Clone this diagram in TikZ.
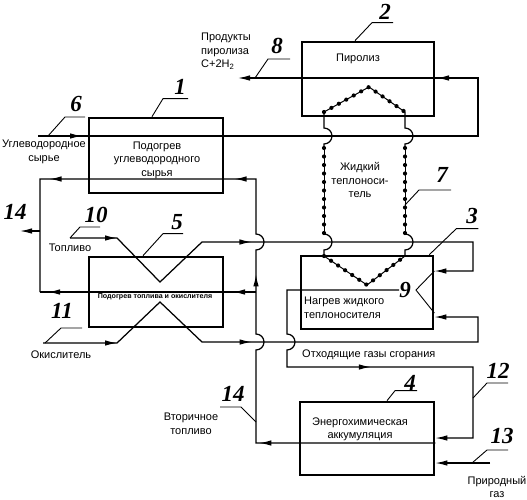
\documentclass[tikz,border=0pt]{standalone}
\usepackage{fontspec}
\setmainfont{Liberation Sans}
\newfontfamily\numserif{Liberation Serif}
\usetikzlibrary{arrows.meta, decorations.markings, calc}

\tikzset{
  unit/.style={draw, line width=2.7pt, inner sep=0pt},
  flow/.style={line width=1.25pt},
  tipat/.style={postaction={decorate, decoration={markings, mark=at position #1 with {\arrow{>}}}}},
  carrier/.style={line width=1pt, postaction={draw, line width=4.2pt, line cap=round, dash pattern=on 0pt off 8.5pt}},
  lead/.style={line width=0.9pt},
  num/.style={font=\numserif\fontsize{23}{23}\selectfont\bfseries\itshape, inner sep=0pt},
  txt/.style={font=\fontsize{11}{13.5}\selectfont, align=center, inner sep=0pt},
}

\begin{document}
\begin{tikzpicture}[x=1pt, y=-1pt, >={Latex[length=12pt,width=5.5pt]}]
    \useasboundingbox (0,0) rectangle (527,499);

    % units
    \node[unit, minimum width=134pt, minimum height=75pt] (heatraw) at (156,155.5) {};
    \node[unit, minimum width=132pt, minimum height=74pt] (pyrolysis) at (368,79) {};
    \node[unit, minimum width=134pt, minimum height=70pt] (heatfuel) at (156,292) {};
    \node[unit, minimum width=132pt, minimum height=73pt] (heatcarrier) at (367,292.5) {};
    \node[unit, minimum width=134pt, minimum height=73pt] (storage) at (367,438.5) {};

    % texts in the units
    \node[txt] (heatrawtext) at (157,160) {Подогрев\\углеводородного\\сырья};
    \node[txt] (pyrotext) at (358,59) {Пиролиз};
    \node[txt, font=\fontsize{7.1}{8}\selectfont\bfseries] (heatfueltext) at (155,297) {Подогрев топлива и окислителя};
    \node[txt, align=left, anchor=west] (heatcarriertext) at (304,308) {Нагрев жидкого\\теплоносителя};
    \node[txt] (storagetext) at (360,429.5) {Энергохимическая\\аккумуляция};

    % texts on the streams
    \node[txt] (rawtext) at (44,152) {Углеводородное\\сырье};
    \node[txt, align=left, anchor=north west] (prodtext) at (201,33) {Продукты\\пиролиза\\C+2H\textsubscript{2}};
    \node[txt] (carriertext) at (360,180) {Жидкий\\теплоноси-\\тель};
    \node[txt] (fueltext) at (70,248) {Топливо};
    \node[txt] (oxtext) at (61,355) {Окислитель};
    \node[txt, anchor=west] (fluetext) at (302,355) {Отходящие газы сгорания};
    \node[txt] (secfueltext) at (191,424) {Вторичное\\топливо};
    \node[txt] (gastext) at (497,487) {Природный\\газ};

    % free ends
    \coordinate (rawin) at (38,136);
    \coordinate (prodout) at (238,78);
    \coordinate (fuelin) at (70,238);
    \coordinate (oxin) at (43,343);
    \coordinate (gasin) at (490,463);
    \coordinate (secout) at (20,231);
    \coordinate (riser) at (256,179);
    \coordinate (flueturn) at (473,367);
    \node[num] (n9) at (405,290) {9};

    % raw material, pyrolysis products
    \draw[flow, ->, tipat=44pt, tipat=539pt] (rawin) -- (478,136) -- (478,78) -- (prodout);

    % fuel and oxidiser
    \draw[flow, ->, tipat=47pt, tipat=216pt] (fuelin) -- (117,238) -- (160,282) -- (202,242) -- (473,242) -- (473,271) -- (heatcarrier.east |- 0,271);
    \draw[flow, ->, tipat=74pt, tipat=241pt] (oxin) -- (117,343) -- (160,302) -- (202,342) -- (478,342) -- (478,317) -- (heatcarrier.east |- 0,317);

    % flue gas
    \draw[flow, ->, tipat=282pt] (n9.west) -- (287,290) -- (287,334) arc[start angle=90, end angle=-90, radius=8pt] -- (287,367) -- (flueturn) -- (473,438) -- (storage.east |- 0,438);

    % natural gas
    \draw[flow, ->] (gasin) -- (storage.east |- gasin);

    % secondary fuel
    \draw[flow, tipat=176pt, tipat=357pt, tipat=483pt, tipat=668pt] (storage.east |- 0,443) -- (256,443) -- (256,350) arc[start angle=-90, end angle=90, radius=8pt] -- (256,250) arc[start angle=-90, end angle=90, radius=8pt] -- (riser) -- (40,179) -- (40,292);
    \draw[flow, tipat=23pt, tipat=208pt] (256,292) -- (40,292);
    \draw[flow, ->] (40,231) -- (secout);

    % liquid heat carrier
    \draw[carrier] (324,112) -- (369,87) -- (405,112);
    \foreach \x in {324,405} {
        \draw[flow] (\x,112) -- (\x,128) arc[start angle=90, end angle=-90, radius=8pt] -- (\x,148);
        \draw[carrier] (\x,148) -- (\x,234);
        \draw[flow] (\x,234) arc[start angle=90, end angle=-90, radius=8pt] -- (\x,256);
    }
    \draw[carrier] (324,256) -- (367,285) -- (405,256);

    % position numbers
    \node[num] (n1) at (180,87) {1};
    \node[num] (n2) at (385,12) {2};
    \node[num] (n3) at (472,216) {3};
    \node[num] (n4) at (410,383) {4};
    \node[num] (n5) at (177,222) {5};
    \node[num] (n6) at (76,104) {6};
    \node[num] (n7) at (442,175) {7};
    \node[num] (n8) at (277,46) {8};
    \node[num] (n10) at (96,215) {10};
    \node[num] (n11) at (62,311) {11};
    \node[num] (n12) at (498,371) {12};
    \node[num] (n13) at (502,436) {13};
    \node[num] (n14) at (15,212) {14};
    \node[num] (n14b) at (233,394) {14};

    \draw[lead] ([xshift=-4pt]heatraw.north) -- ++(11,-18) -- ++(25,0);
    \draw[lead] ([xshift=-13pt]pyrolysis.north) -- ++(17,-18) -- ++(21,0);
    \draw[lead] ([xshift=-5pt]heatcarrier.north east) -- ++(27,-26) -- ++(22,0);
    \draw[lead] ([xshift=20pt]storage.north) -- ++(8,-10) -- ++(22,0);
    \draw[lead] ([xshift=-13pt]heatfuel.north) -- ++(20,-22) -- ++(20,0);
    \draw[lead] ([xshift=10pt]rawin) -- ++(17,-19) -- ++(20,0);
    \draw[lead] (405,205) -- ++(14,-15) -- ++(32,0);
    \draw[lead] ([xshift=17pt]prodout) -- ++(13,-19) -- ++(22,0);
    \draw[lead] (fuelin) -- ++(10,-11) -- ++(20,0);
    \draw[lead] ([xshift=2pt]oxin) -- ++(16,-15) -- ++(21,0);
    \draw[lead] ($(flueturn)+(0,31)$) -- ++(14,-15) -- ++(21,0);
    \draw[lead] ([xshift=-18pt]gasin) -- ++(15,-13) -- ++(21,0);
    \draw[lead] ($(riser)+(0,243)$) -- ++(-15,-15) -- ++(-21,0);
    \draw[lead] (heatcarrier.east |- 0,271) -- ([xshift=5pt]n9.east) -- (heatcarrier.east |- 0,313);
\end{tikzpicture}
\end{document}
